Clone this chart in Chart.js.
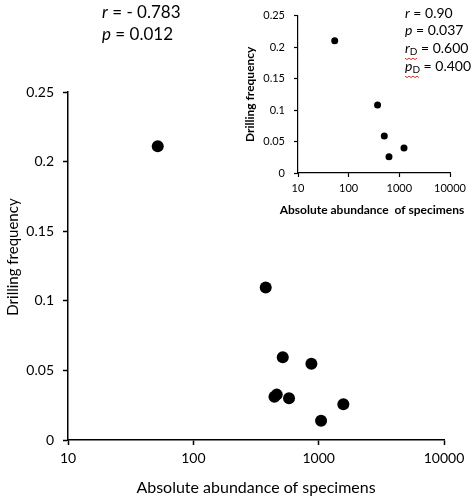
<!DOCTYPE html>
<html>
<head>
<meta charset="utf-8">
<script src="https://cdn.jsdelivr.net/npm/chart.js@4.4.1/dist/chart.umd.min.js"></script>
<style>
  html, body { margin: 0; padding: 0; background: #fff; }
  #wrap { position: relative; width: 474px; height: 497px; }
  #main { position: absolute; left: 0; top: 0; }
  #inset { position: absolute; left: 230px; top: 0; }
</style>
</head>
<body>
<div id="wrap">
  <canvas id="main" width="474" height="497"></canvas>
  <canvas id="inset" width="244" height="220"></canvas>
</div>
<script>
// main panel data
const mainAbundance = [52, 378, 517, 875, 444, 463, 580, 1574, 1045];
const mainFrequency = [0.211, 0.1095, 0.0595, 0.0548, 0.031, 0.0326, 0.030, 0.0257, 0.0138];

// inset panel data
const insetAbundance = [53, 372, 505, 625, 1236];
const insetFrequency = [0.21, 0.108, 0.0587, 0.026, 0.0396];

const xTicks = [10, 100, 1000, 10000];
const yTicks = [0, 0.05, 0.1, 0.15, 0.2, 0.25];

const xTitle = 'Absolute abundance of specimens';
const insetXTitle = 'Absolute abundance  of specimens';
const yTitle = 'Drilling frequency';

const FONT = 'Lato, "DejaVu Sans", sans-serif';

function toPoints(xs, ys) {
  return xs.map((x, i) => ({ x: x, y: ys[i] }));
}

function fmtY(v) {
  return String(Number(v.toFixed(2)));
}

// draws "r = ..." style statistics, with optional subscript and red squiggle;
// also axis titles placed by hand (Chart.js squeezes/centres them otherwise)
function statsPlugin(lines, freeX, freeY) {
  return {
    id: 'stats',
    afterDraw(chart) {
      const ctx = chart.ctx;
      const a = chart.chartArea;
      ctx.save();
      ctx.fillStyle = '#000';
      ctx.textBaseline = 'middle';
      ctx.textAlign = 'left';
      lines.forEach(l => {
        let x = l.x;
        ctx.font = 'italic ' + l.size + 'px ' + FONT;
        ctx.fillText(l.sym, x, l.y);
        x += ctx.measureText(l.sym).width;
        const symStart = l.x;
        if (l.sub) {
          ctx.font = Math.round(l.size * 0.7) + 'px ' + FONT;
          ctx.fillText(l.sub, x, l.y + l.size * 0.3);
          x += ctx.measureText(l.sub).width;
          // red wavy underline
          ctx.strokeStyle = '#e03030';
          ctx.lineWidth = 1;
          ctx.beginPath();
          const wy = l.y + l.size * 0.72;
          for (let px = symStart; px <= x; px += 2) {
            const yy = wy + (((px - symStart) / 2) % 2 === 0 ? 0 : 1.5);
            if (px === symStart) ctx.moveTo(px, yy); else ctx.lineTo(px, yy);
          }
          ctx.stroke();
        }
        ctx.font = l.size + 'px ' + FONT;
        ctx.fillText(l.rest, x, l.y);
      });
      ctx.textAlign = 'center';
      if (freeX) {
        ctx.font = freeX.weight + ' ' + freeX.size + 'px ' + FONT;
        ctx.fillText(freeX.text, (a.left + a.right) / 2 + freeX.dx, a.bottom + freeX.dy);
      }
      if (freeY) {
        ctx.font = freeY.weight + ' ' + freeY.size + 'px ' + FONT;
        ctx.translate(freeY.x, (a.top + a.bottom) / 2 + freeY.dy);
        ctx.rotate(-Math.PI / 2);
        ctx.fillText(freeY.text, 0, 0);
      }
      ctx.restore();
    }
  };
}

function axisStyle(o) {
  return {
    border: { color: '#000', width: o.lw },
    grid: { display: true, drawOnChartArea: false, drawTicks: true,
            tickLength: o.tick, color: '#000', tickWidth: o.lw }
  };
}

function makeChart(id, o) {
  return new Chart(document.getElementById(id), {
    type: 'scatter',
    data: {
      datasets: [{
        data: toPoints(o.xs, o.ys),
        backgroundColor: '#000',
        borderWidth: 0,
        pointRadius: o.r,
        pointHoverRadius: o.r
      }]
    },
    options: {
      responsive: false,
      animation: false,
      events: [],
      layout: { padding: o.pad },
      plugins: { legend: { display: false }, tooltip: { enabled: false } },
      scales: {
        x: Object.assign({
          type: 'logarithmic',
          min: 10,
          max: 10000,
          afterBuildTicks: s => { s.ticks = xTicks.map(v => ({ value: v })); },
          afterFit: s => { s.height = o.xh; },
          ticks: { color: '#000', font: { family: FONT, size: o.tickSize },
                   padding: o.xpad, maxRotation: 0, autoSkip: false,
                   callback: v => String(v) },
          title: { display: !o.freeX, text: o.xTitle, color: '#000',
                   font: { family: FONT, size: o.titleSize, weight: o.weight },
                   padding: { top: o.xtp, bottom: 0 } }
        }, axisStyle(o)),
        y: Object.assign({
          min: 0,
          max: 0.25,
          afterBuildTicks: s => { s.ticks = yTicks.map(v => ({ value: v })); },
          afterFit: s => { s.width = o.yw; },
          ticks: { color: '#000', font: { family: FONT, size: o.tickSize },
                   padding: o.ypad, callback: v => fmtY(v) },
          title: { display: !o.freeY, text: yTitle, color: '#000',
                   font: { family: FONT, size: o.titleSize, weight: o.weight },
                   padding: { top: o.ytp, bottom: 0 } }
        }, axisStyle(o))
      }
    },
    plugins: [statsPlugin(o.stats, o.freeX, o.freeY)]
  });
}

makeChart('main', {
  xs: mainAbundance, ys: mainFrequency, r: 6,
  pad: { top: 92, right: 30, left: 0, bottom: 0 },
  xh: 57, yw: 68, lw: 1.5, tick: 5,
  tickSize: 14, titleSize: 16, weight: 'normal',
  xpad: 5, ypad: 9, xtp: 2, ytp: 3,
  xTitle: xTitle,
  freeY: { text: yTitle, size: 15, weight: 'normal', x: 13, dy: -9 },
  stats: [
    { x: 102, y: 13, size: 17, sym: 'r', rest: ' = - 0.783' },
    { x: 102, y: 35, size: 17, sym: 'p', rest: ' = 0.012' }
  ]
});

makeChart('inset', {
  xs: insetAbundance, ys: insetFrequency, r: 3.5,
  pad: { top: 7, right: 24, left: 0, bottom: 0 },
  xh: 47, yw: 68, lw: 1.2, tick: 4,
  tickSize: 11, titleSize: 12, weight: 'bold',
  xpad: 5, ypad: 9, xtp: 4, ytp: 13,
  xTitle: insetXTitle,
  freeX: { text: insetXTitle, size: 12, weight: 'bold', dx: -2, dy: 37 },
  stats: [
    { x: 175, y: 13, size: 14, sym: 'r', rest: ' = 0.90' },
    { x: 175, y: 30, size: 14, sym: 'p', rest: ' = 0.037' },
    { x: 175, y: 48, size: 14, sym: 'r', sub: 'D', rest: ' = 0.600' },
    { x: 175, y: 66, size: 14, sym: 'p', sub: 'D', rest: ' = 0.400' }
  ]
});
</script>
</body>
</html>
